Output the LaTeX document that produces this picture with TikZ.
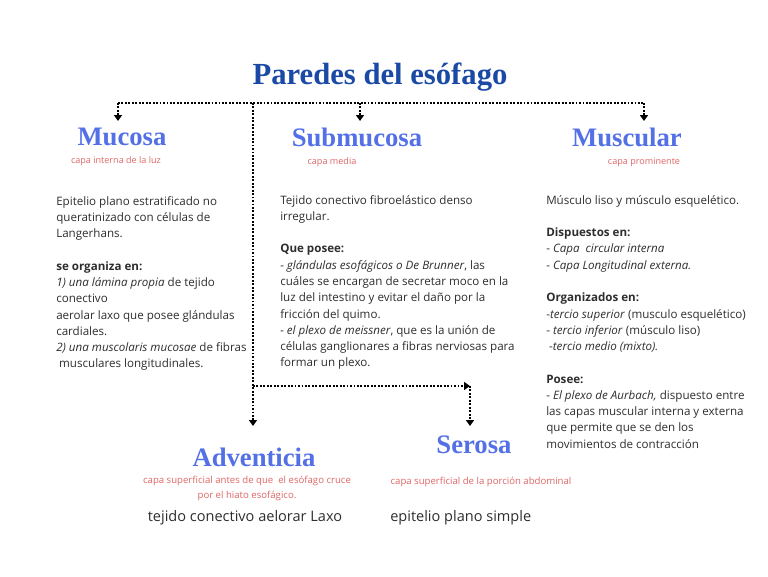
\documentclass[tikz,border=0pt]{standalone}
\usepackage{fontspec}
\setmainfont{Open Sans}
\newfontfamily\titulofont{Liberation Serif}
\usetikzlibrary{arrows.meta}
\definecolor{azulosc}{HTML}{1A4AA6}
\definecolor{azul}{HTML}{5470E6}
\definecolor{rojo}{HTML}{E06666}
\definecolor{texto}{HTML}{2E2E2E}
\tikzset{
  titulo/.style={font=\titulofont\bfseries\fontsize{23}{27}\selectfont, text=azulosc, inner sep=0pt},
  capa/.style={font=\titulofont\bfseries\fontsize{20}{24}\selectfont, text=azul, inner sep=0pt},
  nota/.style={font=\fontsize{6.8}{11.3}\selectfont, text=rojo, inner sep=0pt, align=center},
  notab/.style={nota, font=\fontsize{7.2}{11.3}\selectfont},
  cuerpo/.style={font=\fontsize{8.7}{12.2}\selectfont, text=texto, inner sep=0pt, align=left, anchor=north west},
  final/.style={font=\fontsize{10.9}{13}\selectfont, text=texto, inner sep=0pt},
  punteada/.style={line width=1.4pt, dash pattern=on 1.4pt off 1.2pt},
  flecha/.style={punteada, -{Triangle[width=6pt,length=4.5pt]}},
}
\begin{document}
\begin{tikzpicture}[x=0.75pt, y=-0.75pt]
\fill[white] (0,0) rectangle (768,576);
\useasboundingbox (0,0) rectangle (768,576);

\node [titulo] (titulo) at (380,77) {Paredes del esófago};

% barra superior
\coordinate (barI) at (118,103);
\coordinate (barM) at (360,103);
\coordinate (barD) at (644,103);
\coordinate (rama) at (253,103);
\coordinate (codo) at (253,386);
\coordinate (esq) at (470,386);
\draw [punteada] (barI) -- (barD);
\draw [flecha] (barI) -- (118,121);
\draw [flecha] (barM) -- (360,121);
\draw [flecha] (barD) -- (644,121);
\draw [flecha] (rama) -- (253,426);
\draw [flecha] (codo) -- (esq);
\draw [flecha] (esq) -- (470,426);

% mucosa
\node [capa] (mucosa) at (122,137) {Mucosa};
\node [nota] (mucosanota) at (116,161) {capa interna de la luz};
\node [cuerpo] (mucosatxt) at (56,196) {Epitelio plano estratificado no\\
queratinizado con células de\\
Langerhans.\\[12.2pt]
\textbf{se organiza en:}\\
\textit{1) una lámina propia} de tejido\\
conectivo\\
aerolar laxo que posee glándulas\\
cardiales.\\
\textit{2) una muscolaris mucosae} de fibras\\
\hspace*{.25em}musculares longitudinales.};

% submucosa
\node [capa] (submucosa) at (357,137) {Submucosa};
\node [nota] (submucosanota) at (332,162) {capa media};
\node [cuerpo] (submucosatxt) at (280,195) {Tejido conectivo fibroelástico denso\\
irregular.\\[12.2pt]
\textbf{Que posee:}\\
\textit{- glándulas esofágicos o De Brunner}, las\\
cuáles se encargan de secretar moco en la\\
luz del intestino y evitar el daño por la\\
fricción del quimo.\\
\textit{- el plexo de meissner}, que es la unión de\\
células ganglionares a fibras nerviosas para\\
formar un plexo.};

% muscular
\node [capa] (muscular) at (627,137) {Muscular};
\node [nota] (muscularnota) at (644,162) {capa prominente};
\node [cuerpo] (musculartxt) at (546,195) {Músculo liso y músculo esquelético.\\[12.2pt]
\textbf{Dispuestos en:}\\
- \textit{Capa\ \ circular interna}\\
- \textit{Capa Longitudinal externa.}\\[12.2pt]
\textbf{Organizados en:}\\
-\textit{tercio superior} (musculo esquelético)\\
- \textit{tercio inferior} (músculo liso)\\
\hspace*{.25em}-\textit{tercio medio (mixto).}\\[12.2pt]
\textbf{Posee:}\\
- \textit{El plexo de Aurbach,} dispuesto entre\\
las capas muscular interna y externa\\
que permite que se den los\\
movimientos de contracción};

% adventicia
\node [capa] (adventicia) at (254,457) {Adventicia};
\node [notab] (adventicianota) at (247,488) {capa superficial antes de que\ \ el esófago cruce\\por el hiato esofágico.};
\node [final] (adventiciatxt) at (245,518) {tejido conectivo aelorar Laxo};

% serosa
\node [capa] (serosa) at (474,445) {Serosa};
\node [notab] (serosanota) at (481,482) {capa superficial de la porción abdominal};
\node [final, anchor=west] (serosatxt) at (390,518) {epitelio plano simple};
\end{tikzpicture}
\end{document}
